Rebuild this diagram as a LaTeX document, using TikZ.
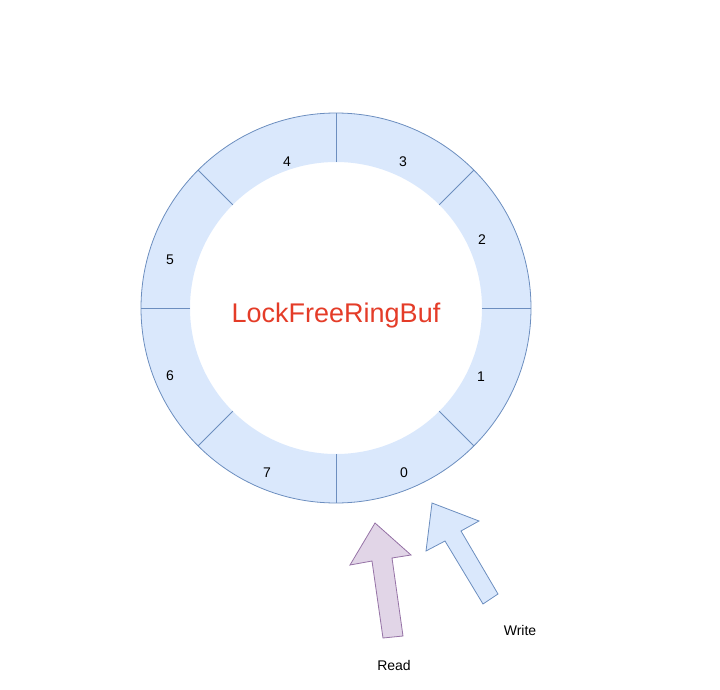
\documentclass[tikz,border=0pt]{standalone}
\usepackage{fontspec}
\setmainfont{Liberation Sans}
\usetikzlibrary{calc}
\definecolor{bfill}{RGB}{218,232,252}
\definecolor{bline}{RGB}{108,142,191}
\definecolor{pfill}{RGB}{225,213,231}
\definecolor{pline}{RGB}{150,115,166}
\definecolor{tred}{RGB}{228,60,40}
\begin{document}
\begin{tikzpicture}[x=1pt,y=-1pt,
  num/.style={font=\fontsize{14}{16}\selectfont},
  lbl/.style={font=\fontsize{14}{16}\selectfont},
  seg/.style={draw=bline,thick}]
\useasboundingbox (0,0) rectangle (720,690);
\coordinate (c) at (336,308);
\fill[bfill,even odd rule] (c) circle[radius=195] (c) circle[radius=146];
\draw[seg] (c) circle[radius=195];
\foreach \a in {0,45,...,315}
  \draw[seg] ($(c)+(\a:146)$) -- ($(c)+(\a:195)$);
\node[num] (n0) at (404,473) {0};
\node[num] (n1) at (481,377) {1};
\node[num] (n2) at (482,240) {2};
\node[num] (n3) at (403,162) {3};
\node[num] (n4) at (287,162) {4};
\node[num] (n5) at (170,260) {5};
\node[num] (n6) at (170,376) {6};
\node[num] (n7) at (267,473) {7};
\node[text=tred,font=\fontsize{27}{30}\selectfont] (t) at (336,316) {LockFreeRingBuf};
\filldraw[fill=pfill,draw=pline,thick]
  (375,523) -- (411,555) -- (392,558) -- (403,636) -- (383,638) -- (372,561) -- (350,565) -- cycle;
\filldraw[fill=bfill,draw=bline,thick]
  (432,503) -- (479,521) -- (461,531) -- (498,594) -- (483,604) -- (445,541) -- (426,551) -- cycle;
\node[lbl] (r) at (394,665) {Read};
\node[lbl] (w) at (520,630) {Write};
\end{tikzpicture}
\end{document}
